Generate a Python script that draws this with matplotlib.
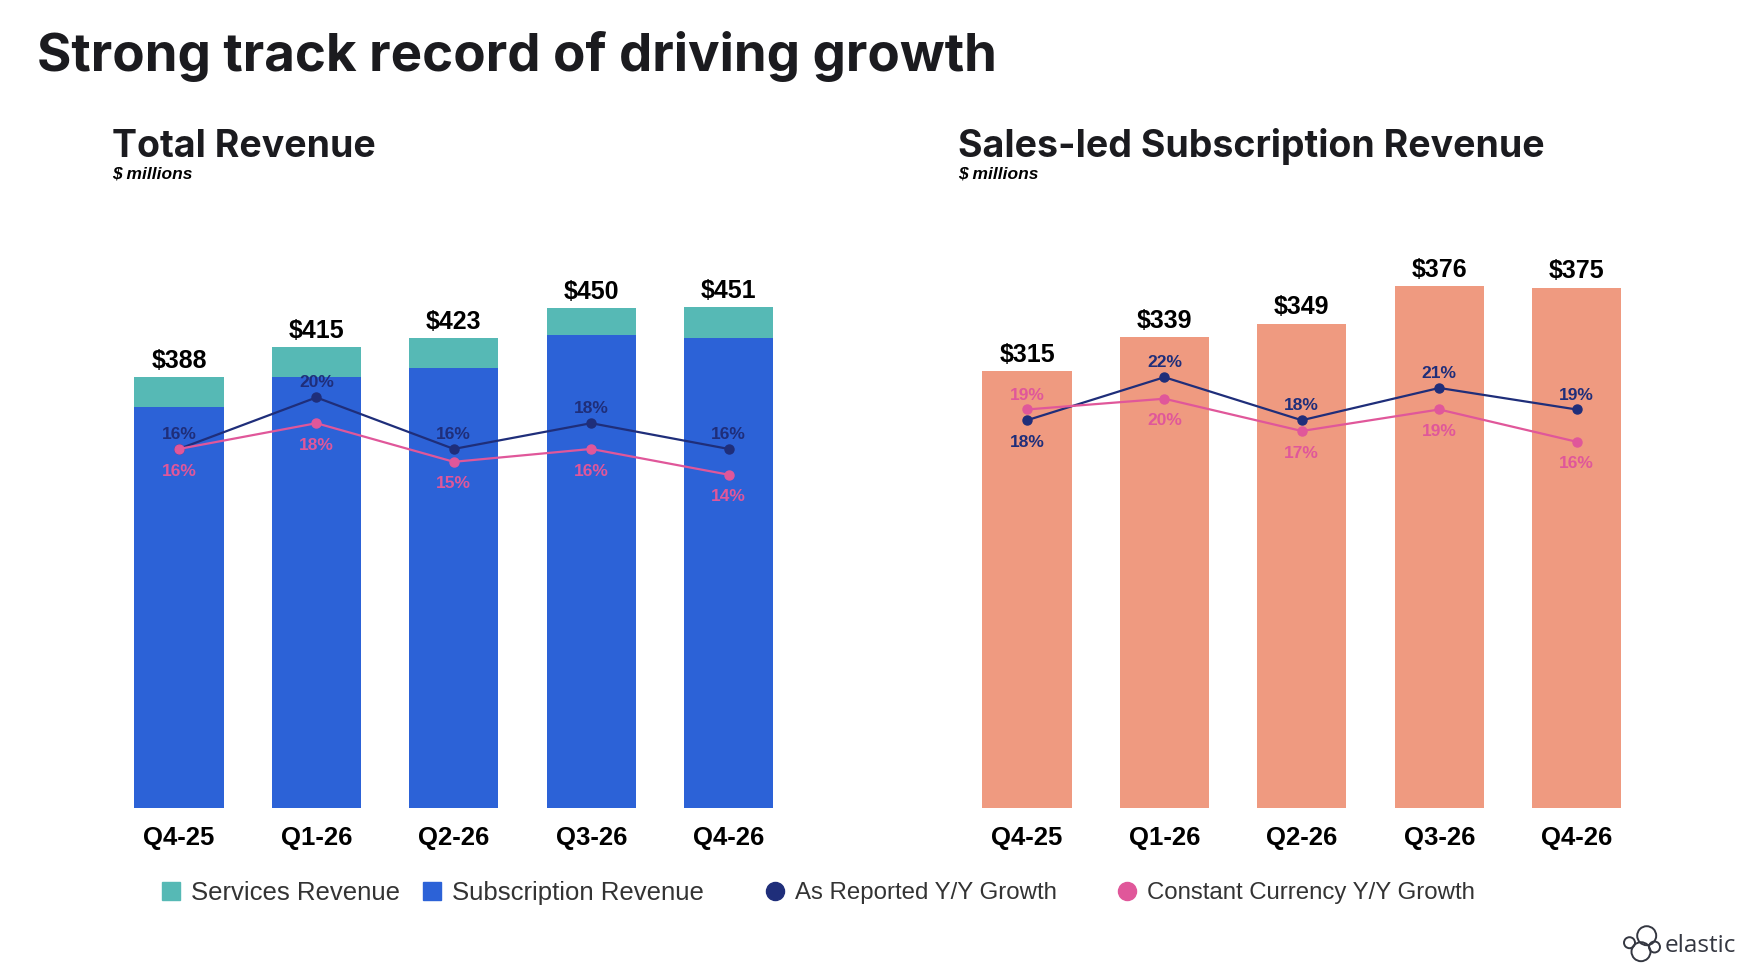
import matplotlib
matplotlib.use("Agg")
import matplotlib.pyplot as plt
from matplotlib.lines import Line2D
from matplotlib.patches import Circle
import numpy as np

# ---------------- data ----------------
quarters = ["Q4-25", "Q1-26", "Q2-26", "Q3-26", "Q4-26"]
total_revenue = [388, 415, 423, 450, 451]
subscription_revenue = [361, 388, 396, 426, 423]
services_revenue = [27, 27, 27, 24, 28]
total_reported_growth = [16, 20, 16, 18, 16]
total_cc_growth = [16, 18, 15, 16, 14]

sales_led_revenue = [315, 339, 349, 376, 375]
sales_led_reported_growth = [18, 22, 18, 21, 19]
sales_led_cc_growth = [19, 20, 17, 19, 16]

# ---------------- style ----------------
TEAL = "#56B9B5"
BLUE = "#2C62D7"
SALMON = "#EF9A80"
NAVY = "#1F2E7A"
PINK = "#E0579A"
DARK = "#1B1B1F"

W, H = 1750, 976
fig = plt.figure(figsize=(W / 100, H / 100), dpi=100)
fig.patch.set_facecolor("white")

TITLE_FONT = ["Inter", "DejaVu Sans"]
NUM_FONT = ["Liberation Sans", "DejaVu Sans"]


def px_axes(x0, y_top, x1, y_bot):
    return fig.add_axes([x0 / W, 1 - y_bot / H, (x1 - x0) / W, (y_bot - y_top) / H])


def style_axes(ax):
    for s in ax.spines.values():
        s.set_visible(False)
    ax.set_yticks([])
    ax.tick_params(axis="x", length=0, pad=13)


def growth_labels(ax2, rep, cc):
    x = np.arange(len(rep))
    ax2.plot(x, rep, color=NAVY, lw=1.6, marker="o", ms=6.5, zorder=5)
    ax2.plot(x, cc, color=PINK, lw=1.6, marker="o", ms=6.5, zorder=5)
    for i, (r, c) in enumerate(zip(rep, cc)):
        rep_above = r >= c
        for v, col, above in ((r, NAVY, rep_above), (c, PINK, not rep_above)):
            ax2.annotate(f"{v}%", (i, v), xytext=(0, 5 if above else -10.5),
                         textcoords="offset points", ha="center",
                         va="bottom" if above else "top", color=col,
                         fontsize=12.5, fontweight="bold", family=NUM_FONT, zorder=6)


bar_w = 0.65
y_top_px, y_bot_px = 200, 808
x = np.arange(len(quarters))

# ---------------- left chart ----------------
axL = px_axes(110.3, y_top_px, 797.3, y_bot_px)
axL.set_xlim(-0.5, 4.5)
axL.set_ylim(0, (y_bot_px - y_top_px) / 1.111)
axL.bar(x, subscription_revenue, width=bar_w, color=BLUE, zorder=2)
axL.bar(x, services_revenue, bottom=subscription_revenue, width=bar_w, color=TEAL, zorder=2)
for i, t in enumerate(total_revenue):
    axL.annotate(f"\\${t}", (i, t), xytext=(0, 3), textcoords="offset points",
                 ha="center", va="bottom", fontsize=18, fontweight="bold",
                 family=NUM_FONT, color="black")
axL.set_xticks(x)
axL.set_xticklabels(quarters, fontsize=18.5, fontweight="bold", family=NUM_FONT)
style_axes(axL)

axL2 = axL.twinx()
axL2.set_ylim(-11.88, 35.33)
axL2.axis("off")
growth_labels(axL2, total_reported_growth, total_cc_growth)

# ---------------- right chart ----------------
axR = px_axes(958.3, y_top_px, 1645.3, y_bot_px)
axR.set_xlim(-0.5, 4.5)
axR.set_ylim(0, (y_bot_px - y_top_px) / 1.388)
axR.bar(x, sales_led_revenue, width=bar_w, color=SALMON, zorder=2)
for i, t in enumerate(sales_led_revenue):
    axR.annotate(f"\\${t}", (i, t), xytext=(0, 3), textcoords="offset points",
                 ha="center", va="bottom", fontsize=18, fontweight="bold",
                 family=NUM_FONT, color="black")
axR.set_xticks(x)
axR.set_xticklabels(quarters, fontsize=18.5, fontweight="bold", family=NUM_FONT)
style_axes(axR)

axR2 = axR.twinx()
axR2.set_ylim(-18.04, 38.47)
axR2.axis("off")
growth_labels(axR2, sales_led_reported_growth, sales_led_cc_growth)

# ---------------- titles ----------------
fig.text(37 / W, 1 - 71 / H, "Strong track record of driving growth", fontsize=38,
         fontweight="bold", family=TITLE_FONT, color=DARK, va="baseline", ha="left")
for x0, sub in ((112, "Total Revenue"), (958, "Sales-led Subscription Revenue")):
    fig.text(x0 / W, 1 - 157 / H, sub, fontsize=27, fontweight="bold",
             family=TITLE_FONT, color=DARK, va="baseline", ha="left")
    fig.text(x0 / W, 1 - 178 / H, "$ millions", fontsize=12.5, fontweight="bold",
             style="italic", family=NUM_FONT, color="black", va="baseline", ha="left")

# ---------------- legends ----------------
common = dict(frameon=False, loc="center left", borderpad=0, borderaxespad=0,
              handlelength=0.7, labelcolor="#333333")
h1 = [Line2D([], [], marker="s", ls="none", ms=12.5, color=TEAL),
      Line2D([], [], marker="s", ls="none", ms=12.5, color=BLUE)]
fig.legend(h1, ["Services Revenue", "Subscription Revenue"], ncol=2,
           columnspacing=0.9, handletextpad=0.42,
           prop={"family": NUM_FONT, "size": 18.5},
           bbox_to_anchor=(162 / W, 1 - 893 / H), **common)
h2 = [Line2D([], [], marker="o", ls="none", ms=13, color=NAVY),
      Line2D([], [], marker="o", ls="none", ms=13, color=PINK)]
fig.legend(h2, ["As Reported Y/Y Growth", "Constant Currency Y/Y Growth"], ncol=2,
           columnspacing=2.6, handletextpad=0.47,
           prop={"family": NUM_FONT, "size": 17.3},
           bbox_to_anchor=(766.6 / W, 1 - 893 / H), **common)

# ---------------- logo ----------------
axLogo = px_axes(1615, 920, 1665, 970)
axLogo.set_xlim(1615, 1665)
axLogo.set_ylim(970, 920)
axLogo.set_aspect("equal")
axLogo.axis("off")
for (cx, cy, r) in [(1646.7, 935.7, 9.5), (1629.5, 942.7, 5.5),
                    (1641, 951.7, 9.5), (1654.5, 947, 5.5)]:
    axLogo.add_patch(Circle((cx, cy), r, fill=False, ec="#343741", lw=1.4))
fig.text(1665 / W, 1 - 946 / H, "elastic", fontsize=17.5, family=["Open Sans", "DejaVu Sans"],
         color="#343741", va="center", ha="left")

fig.savefig("out.png", dpi=100, facecolor="white")
